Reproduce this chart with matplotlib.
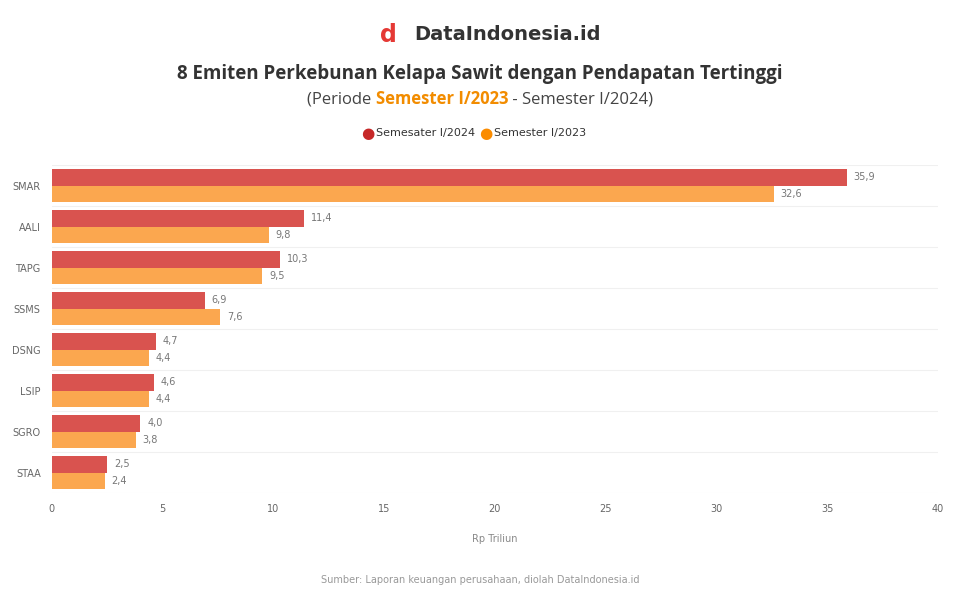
import numpy as np
import matplotlib.pyplot as plt

emiten = ["SMAR", "AALI", "TAPG", "SSMS", "DSNG", "LSIP", "SGRO", "STAA"]
sem_2024 = [35.9, 11.4, 10.3, 6.9, 4.7, 4.6, 4.0, 2.5]
sem_2023 = [32.6, 9.8, 9.5, 7.6, 4.4, 4.4, 3.8, 2.4]
xticks = [0, 5, 10, 15, 20, 25, 30, 35, 40]

RED = "#d9534f"
ORANGE = "#fba74f"

fig = plt.figure(figsize=(9.6, 6.0), dpi=100)
ax = fig.add_axes([0.054, 0.178, 0.923, 0.547])

y = np.arange(len(emiten))
h = 0.4
ax.barh(y - h / 2, sem_2024, height=h, color=RED)
ax.barh(y + h / 2, sem_2023, height=h, color=ORANGE)
for yi, v in zip(y - h / 2, sem_2024):
    ax.text(v + 0.3, yi, f"{v:.1f}".replace(".", ","), va="center", fontsize=7, color="#777")
for yi, v in zip(y + h / 2, sem_2023):
    ax.text(v + 0.3, yi, f"{v:.1f}".replace(".", ","), va="center", fontsize=7, color="#777")

ax.set_ylim(len(emiten) - 0.5, -0.5)
ax.set_xlim(0, 40)
ax.set_yticks(y)
ax.set_yticklabels(emiten, fontsize=7, color="#666")
ax.set_xticks(xticks)
ax.set_xticklabels([str(t) for t in xticks], fontsize=7, color="#666")
ax.set_xlabel("Rp Triliun", fontsize=7, color="#888", labelpad=14)
for yy in np.arange(-0.5, len(emiten), 1):
    ax.axhline(yy, color="#f0f0f0", lw=0.8, zorder=0)
for s in ax.spines.values():
    s.set_visible(False)
ax.tick_params(length=0, pad=8)

fig.text(0.405, 0.942, "d", fontsize=17, fontweight="bold", color="#e53935", ha="center", va="center")
fig.text(0.432, 0.942, "DataIndonesia.id", fontsize=14, fontweight="bold", color="#333", ha="left", va="center")
fig.text(0.5, 0.877, "8 Emiten Perkebunan Kelapa Sawit dengan Pendapatan Tertinggi",
         fontsize=13.5, fontweight="bold", color="#333", ha="center", va="center", family="Open Sans")

# subtitle built from three pieces laid side by side
parts = [("(Periode ", "#444", "normal"), ("Semester I/2023", "#f28c00", "bold"),
         (" - Semester I/2024)", "#444", "normal")]
r = fig.canvas.get_renderer()
texts = [fig.text(0, 0.835, s, fontsize=12, color=c, fontweight=w, va="center", family="Open Sans")
         for s, c, w in parts]
widths = [t.get_window_extent(r).width / fig.bbox.width for t in texts]
x = 0.5 - sum(widths) / 2
for t, w in zip(texts, widths):
    t.set_x(x)
    x += w

fig.text(0.383, 0.778, "\u25CF", fontsize=11, color="#c62828", ha="center", va="center")
fig.text(0.392, 0.778, "Semesater I/2024", fontsize=8, color="#333", ha="left", va="center")
fig.text(0.506, 0.778, "\u25CF", fontsize=11, color="#fb8c00", ha="center", va="center")
fig.text(0.515, 0.778, "Semester I/2023", fontsize=8, color="#333", ha="left", va="center")

fig.text(0.5, 0.033, "Sumber: Laporan keuangan perusahaan, diolah DataIndonesia.id",
         fontsize=7, color="#999", ha="center", va="center")

fig.savefig("out.png", dpi=100, facecolor="white")
